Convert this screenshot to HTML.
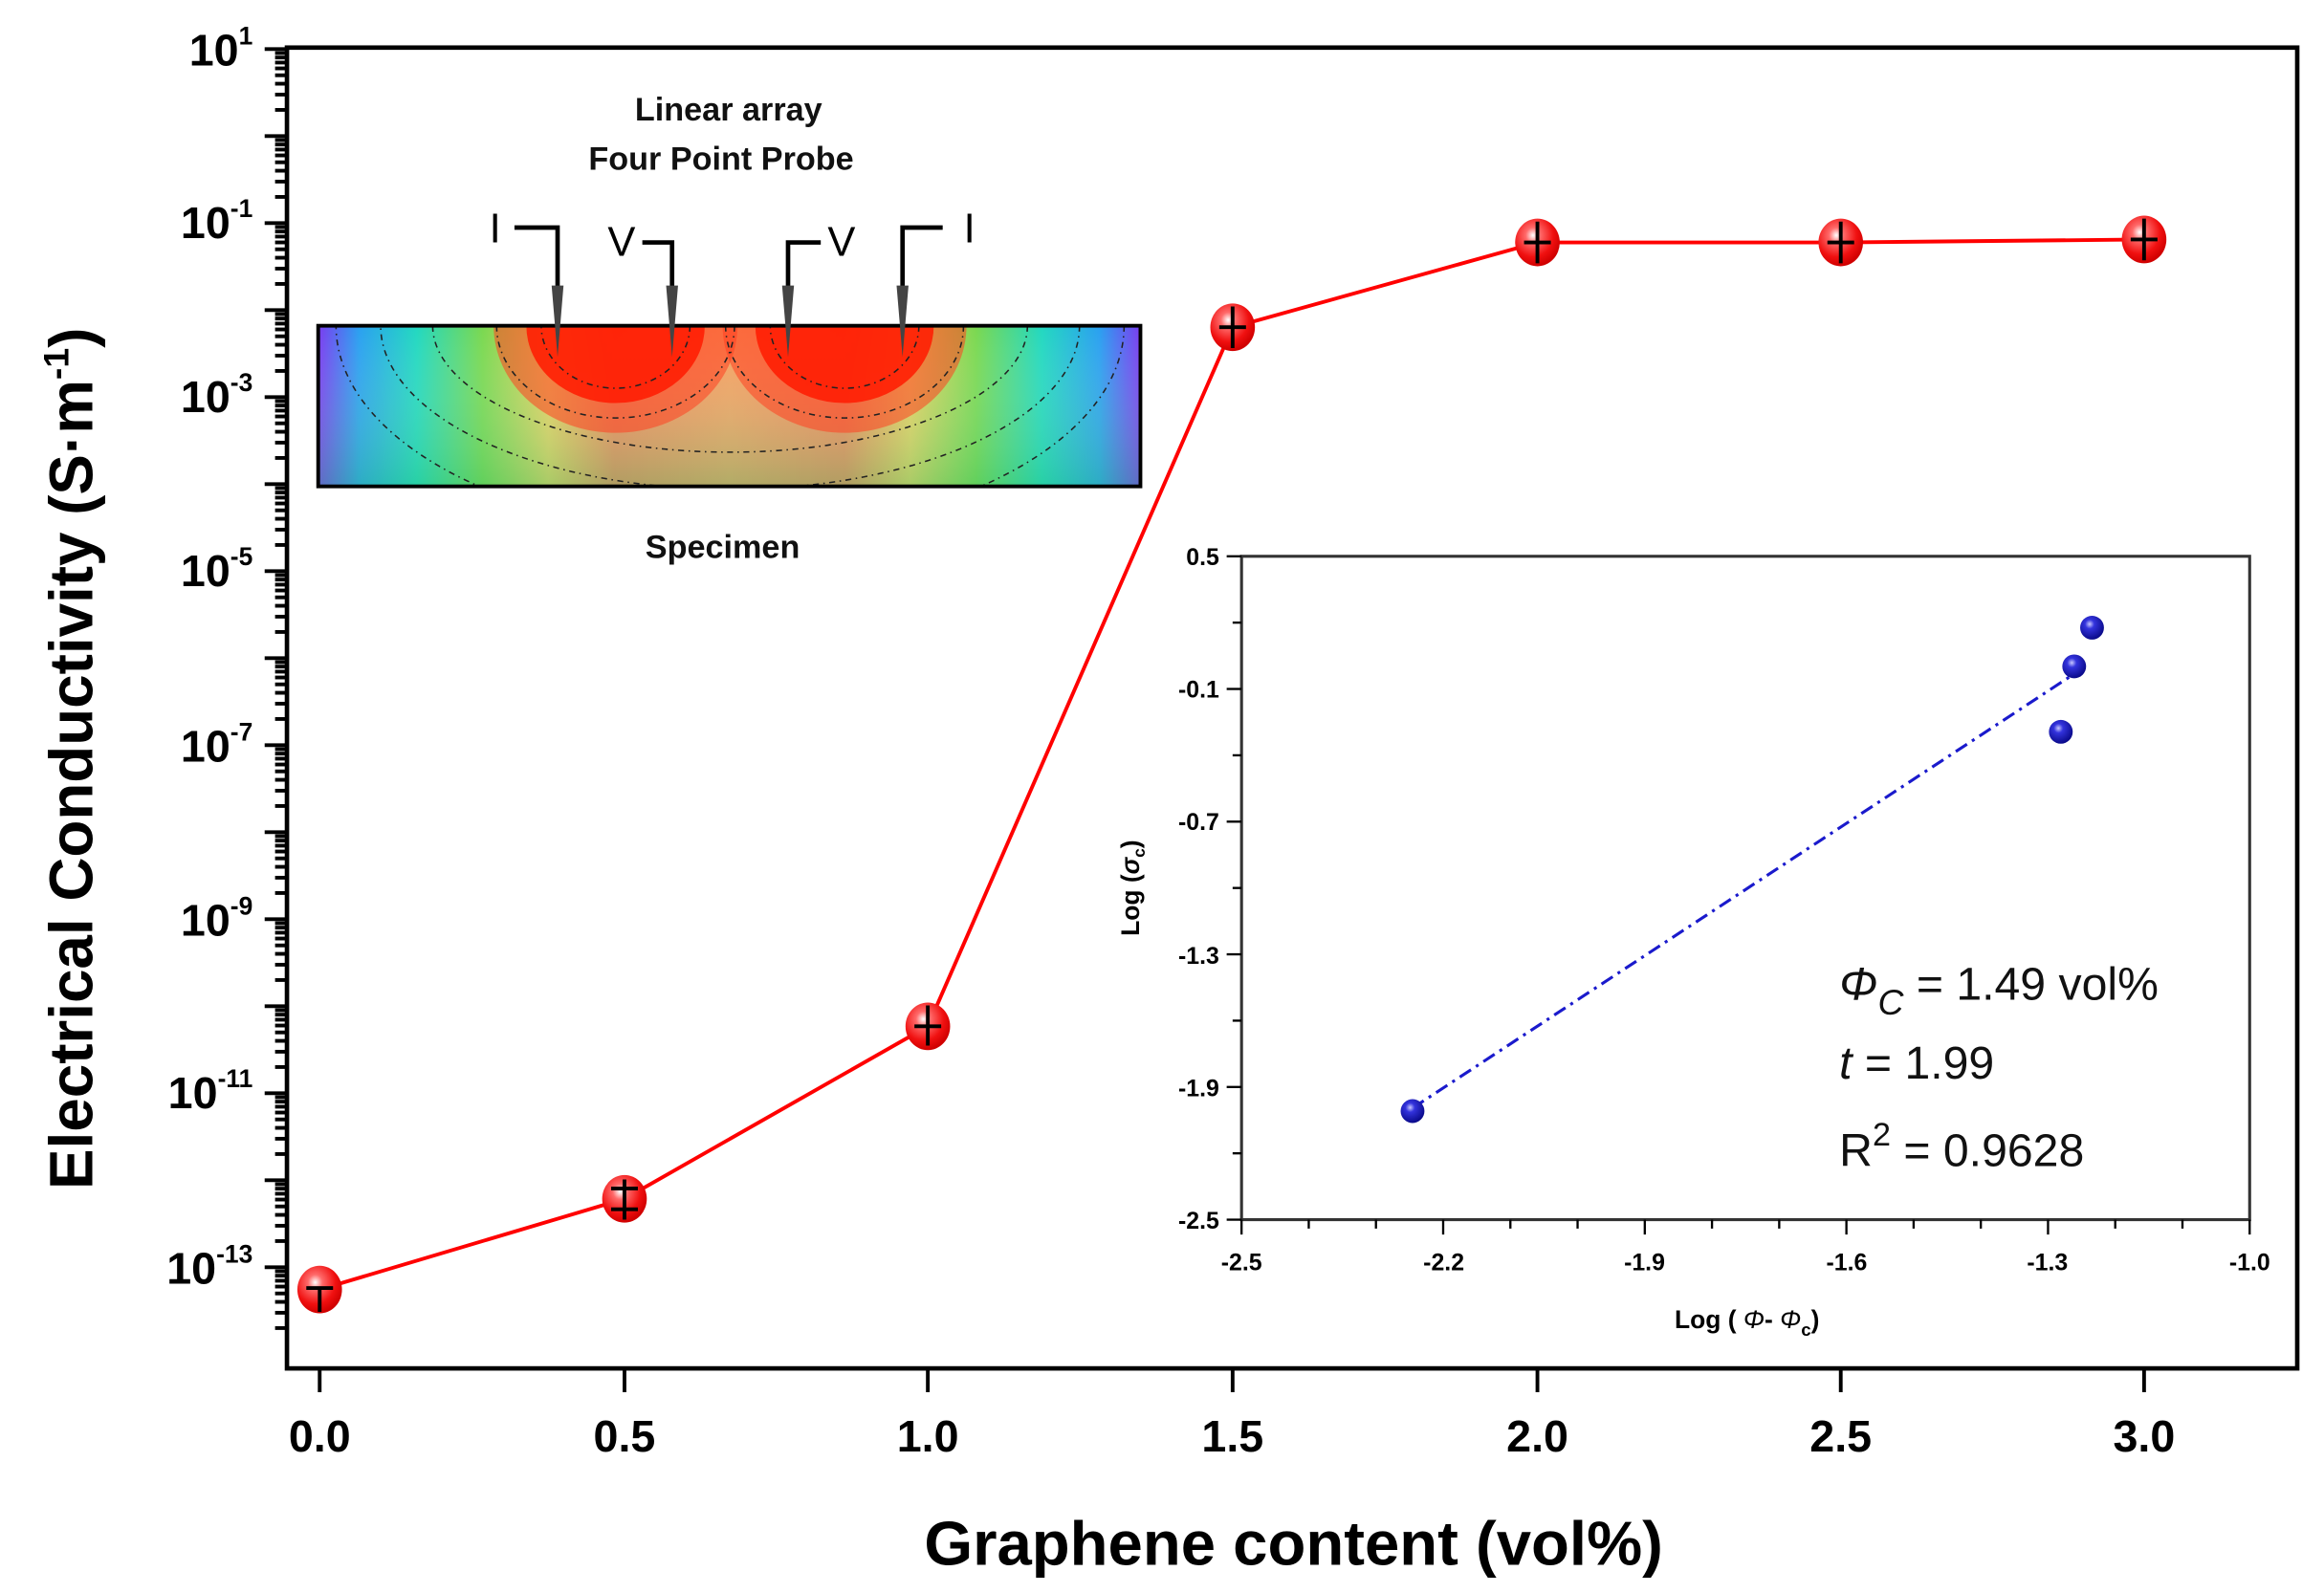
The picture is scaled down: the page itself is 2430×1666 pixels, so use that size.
<!DOCTYPE html>
<html><head><meta charset="utf-8"><style>
html,body{margin:0;padding:0;background:#fff;}
svg{display:block;}
</style></head><body>
<svg id="s" xmlns="http://www.w3.org/2000/svg" width="2430" height="1666" viewBox="0 0 1563 1071" preserveAspectRatio="none" font-family="Liberation Sans, Arial, sans-serif">
<defs>
<radialGradient id="rb" cx="0.4" cy="0.35" r="0.65">
<stop offset="0" stop-color="#fff"/><stop offset="0.25" stop-color="#ff6a6a"/><stop offset="0.7" stop-color="#f01010"/><stop offset="1" stop-color="#d00000"/>
</radialGradient>
<radialGradient id="bb" cx="0.4" cy="0.35" r="0.65">
<stop offset="0" stop-color="#c8c8ff"/><stop offset="0.3" stop-color="#3333dd"/><stop offset="1" stop-color="#0a0a8a"/>
</radialGradient>
<linearGradient id="spec" x1="0" x2="1" y1="0" y2="0">
<stop offset="0" stop-color="#7a3cf0"/><stop offset="0.05" stop-color="#2aa0f0"/><stop offset="0.12" stop-color="#22d8c0"/><stop offset="0.2" stop-color="#7ad850"/><stop offset="0.28" stop-color="#e8d060"/><stop offset="0.36" stop-color="#f58a5a"/><stop offset="0.5" stop-color="#f5a060"/><stop offset="0.64" stop-color="#f58a5a"/><stop offset="0.72" stop-color="#e8d060"/><stop offset="0.8" stop-color="#7ad850"/><stop offset="0.88" stop-color="#22d8c0"/><stop offset="0.95" stop-color="#2aa0f0"/><stop offset="1" stop-color="#7a3cf0"/>
</linearGradient>
<linearGradient id="vfade" x1="0" x2="0" y1="0" y2="1">
<stop offset="0" stop-color="#fff" stop-opacity="0"/><stop offset="1" stop-color="#30c070" stop-opacity="0.35"/>
</linearGradient>
<clipPath id="sc"><rect x="214" y="219" width="553" height="108"/></clipPath>
</defs>

<rect x="193" y="32" width="1352" height="888" fill="none" stroke="#000" stroke-width="3"/>
<g id="ticks" stroke="#000" stroke-width="2.5"></g>

<g font-weight="bold" font-size="30" text-anchor="end">
<text x="170" y="44">10<tspan font-size="17" dy="-14">1</tspan></text>
<text x="170" y="160">10<tspan font-size="17" dy="-14">-1</tspan></text>
<text x="170" y="277">10<tspan font-size="17" dy="-14">-3</tspan></text>
<text x="170" y="394">10<tspan font-size="17" dy="-14">-5</tspan></text>
<text x="170" y="512">10<tspan font-size="17" dy="-14">-7</tspan></text>
<text x="170" y="629">10<tspan font-size="17" dy="-14">-9</tspan></text>
<text x="170" y="745">10<tspan font-size="17" dy="-14">-11</tspan></text>
<text x="170" y="863">10<tspan font-size="17" dy="-14">-13</tspan></text>
</g>
<g font-weight="bold" font-size="30" text-anchor="middle">
<text x="215" y="976">0.0</text><text x="420" y="976">0.5</text><text x="624" y="976">1.0</text><text x="829" y="976">1.5</text><text x="1034" y="976">2.0</text><text x="1238" y="976">2.5</text><text x="1442" y="976">3.0</text>
</g>
<text x="870" y="1052" font-weight="bold" font-size="42" text-anchor="middle">Graphene content (vol%)</text>
<text transform="translate(62,510) rotate(-90)" font-weight="bold" font-size="41" text-anchor="middle">Electrical Conductivity (S·m<tspan font-size="24" dy="-16">-1</tspan><tspan dy="16">)</tspan></text>

<g clip-path="url(#sc)">
<rect x="214" y="219" width="553" height="108" fill="url(#spec)"/>
<rect x="214" y="219" width="553" height="108" fill="url(#vfade)"/>
<ellipse cx="414" cy="219" rx="82" ry="72" fill="#ff4020" fill-opacity="0.55"/>
<ellipse cx="568" cy="219" rx="82" ry="72" fill="#ff4020" fill-opacity="0.55"/>
<ellipse cx="414" cy="219" rx="60" ry="52" fill="#ff1a00" fill-opacity="0.85"/>
<ellipse cx="568" cy="219" rx="60" ry="52" fill="#ff1a00" fill-opacity="0.85"/>
<g fill="none" stroke="#222" stroke-width="1" stroke-dasharray="4,3,1,3">
<ellipse cx="414" cy="219" rx="50" ry="42"/><ellipse cx="568" cy="219" rx="50" ry="42"/>
<ellipse cx="414" cy="219" rx="80" ry="62"/><ellipse cx="568" cy="219" rx="80" ry="62"/>
<ellipse cx="491" cy="219" rx="200" ry="85"/><ellipse cx="491" cy="219" rx="235" ry="110"/>
<ellipse cx="491" cy="219" rx="265" ry="140"/>
</g>
</g>
<rect x="214" y="219" width="553" height="108" fill="none" stroke="#000" stroke-width="2.5"/>
<g stroke="#000" stroke-width="3" fill="none">
<path d="M346 153 H375 V195"/><path d="M432 163 H452 V195"/><path d="M552 163 H530 V195"/><path d="M634 153 H607 V195"/>
</g>
<g fill="#444">
<path d="M371 192 L379 192 L375 240 Z"/><path d="M448 192 L456 192 L452 240 Z"/><path d="M526 192 L534 192 L530 240 Z"/><path d="M603 192 L611 192 L607 240 Z"/>
</g>
<g font-size="28" text-anchor="middle">
<text x="333" y="163">I</text><text x="418" y="172">V</text><text x="566" y="172">V</text><text x="652" y="163">I</text>
</g>
<g font-size="22" font-weight="bold" text-anchor="middle" fill="#111">
<text x="490" y="81">Linear array</text>
<text x="485" y="114">Four Point Probe</text>
<text x="486" y="375">Specimen</text>
</g>

<polyline points="215,867 420,806 624,690 829,220 1034,163 1238,163 1442,161" fill="none" stroke="#ff0000" stroke-width="2.5"/>
<g fill="url(#rb)">
<ellipse cx="215" cy="867" rx="15" ry="16"/><ellipse cx="420" cy="806" rx="15" ry="16"/><ellipse cx="624" cy="690" rx="15" ry="16"/>
<ellipse cx="829" cy="220" rx="15" ry="16"/><ellipse cx="1034" cy="163" rx="15" ry="16"/><ellipse cx="1238" cy="163" rx="15" ry="16"/><ellipse cx="1442" cy="161" rx="15" ry="16"/>
</g>
<g stroke="#000" stroke-width="2.5">
<path d="M215 866 V882 M206 866 H224"/>
<path d="M420 793 V820 M411 799 H429 M411 813 H429"/>
<path d="M624 676 V703 M615 690 H633"/>
<path d="M829 206 V234 M820 220 H838"/>
<path d="M1034 149 V177 M1025 163 H1043"/>
<path d="M1238 149 V177 M1229 163 H1247"/>
<path d="M1442 147 V175 M1433 161 H1451"/>
</g>

<rect x="835" y="374" width="678" height="446" fill="#fff" stroke="#333" stroke-width="2"/>
<g id="iticks" stroke="#000" stroke-width="1.5"></g>
<g font-size="16" font-weight="bold" text-anchor="end">
<text x="820" y="380">0.5</text><text x="820" y="469">-0.1</text><text x="820" y="558">-0.7</text><text x="820" y="648">-1.3</text><text x="820" y="737">-1.9</text><text x="820" y="826">-2.5</text>
</g>
<g font-size="16" font-weight="bold" text-anchor="middle">
<text x="835" y="854">-2.5</text><text x="971" y="854">-2.2</text><text x="1106" y="854">-1.9</text><text x="1242" y="854">-1.6</text><text x="1377" y="854">-1.3</text><text x="1513" y="854">-1.0</text>
</g>
<text x="1175" y="893" font-size="17" font-weight="bold" text-anchor="middle">Log ( <tspan font-style="italic" font-weight="normal">Φ</tspan>- <tspan font-style="italic" font-weight="normal">Φ</tspan><tspan font-size="12" dy="5">c</tspan><tspan dy="-5">)</tspan></text>
<text transform="translate(766,597) rotate(-90)" font-size="17" font-weight="bold" text-anchor="middle">Log (<tspan font-style="italic">σ</tspan><tspan font-size="11" dy="4">c</tspan><tspan dy="-4">)</tspan></text>
<line x1="950" y1="745" x2="1392" y2="455" stroke="#1a1acc" stroke-width="2" stroke-dasharray="9,4,2,4"/>
<g fill="url(#bb)">
<circle cx="950" cy="747" r="8"/><circle cx="1386" cy="492" r="8"/><circle cx="1395" cy="448" r="8"/><circle cx="1407" cy="422" r="8"/>
</g>
<g font-size="31" fill="#111">
<text x="1237" y="672"><tspan font-style="italic">Φ</tspan><tspan font-style="italic" font-size="24" dy="10">C</tspan><tspan dy="-10"> = 1.49 vol%</tspan></text>
<text x="1237" y="725"><tspan font-style="italic">t</tspan> = 1.99</text>
<text x="1237" y="784">R<tspan font-size="22" dy="-14">2</tspan><tspan dy="14"> = 0.9628</tspan></text>
</g>
</svg>
<script>
var ns="http://www.w3.org/2000/svg";
function L(g,x1,y1,x2,y2){var l=document.createElementNS(ns,"line");l.setAttribute("x1",x1);l.setAttribute("y1",y1);l.setAttribute("x2",x2);l.setAttribute("y2",y2);g.appendChild(l);}
var g=document.getElementById("ticks");
var y0=33,d=58.5;
for(var k=0;k<=14;k++){var y=y0+k*d;L(g,193,y,178,y);
 for(var m=2;m<=9;m++){var yy=y+d-Math.log10(m)*d; if(yy<=920) L(g,193,yy,185,yy);}
}
[215,420,624,829,1034,1238,1442].forEach(function(x){L(g,x,920,x,936);});
var gi=document.getElementById("iticks");
for(var i=0;i<=10;i++){var y=374+i*44.6;L(gi,835,y,i%2?829:825,y);}
for(var i=0;i<=15;i++){var x=835+i*45.2;L(gi,x,820,x,i%3?826:830);}
</script>
</body></html>
